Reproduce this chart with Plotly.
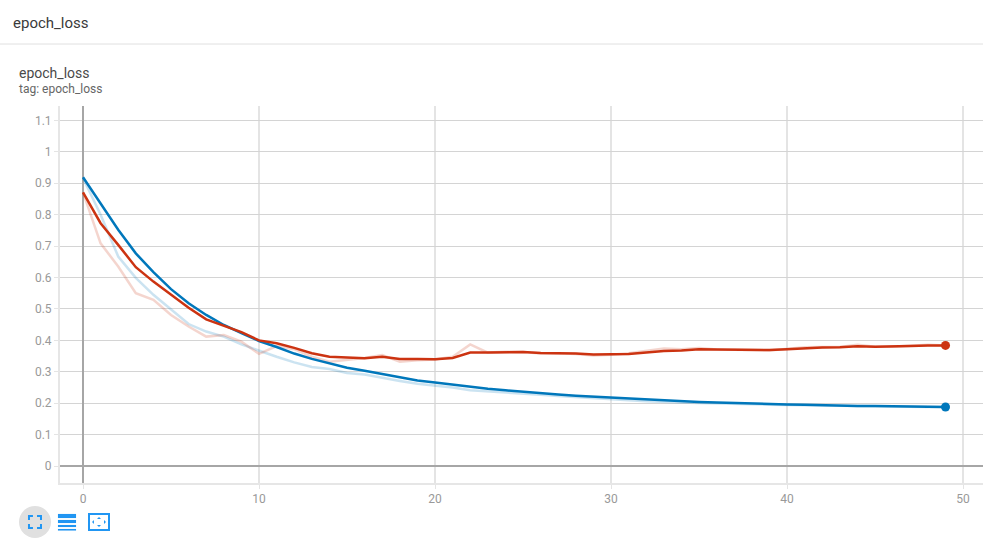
import plotly.graph_objects as go

epochs = list(range(50))

# light lines = raw values, strong lines = smoothed
train_raw = [0.917, 0.800, 0.667, 0.599, 0.545, 0.497, 0.452, 0.428, 0.412, 0.387,
             0.367, 0.348, 0.330, 0.315, 0.309, 0.296, 0.291, 0.280, 0.271, 0.262,
             0.257, 0.250, 0.241, 0.238, 0.234, 0.230, 0.227, 0.223, 0.219, 0.215,
             0.212, 0.209, 0.206, 0.203, 0.202, 0.201, 0.199, 0.198, 0.196, 0.195,
             0.194, 0.193, 0.192, 0.191, 0.190, 0.190, 0.189, 0.188, 0.188, 0.188]
train_smooth = [0.919, 0.836, 0.752, 0.677, 0.617, 0.563, 0.518, 0.481, 0.449, 0.423,
                0.398, 0.379, 0.358, 0.341, 0.327, 0.313, 0.303, 0.292, 0.281, 0.272,
                0.266, 0.259, 0.252, 0.246, 0.241, 0.236, 0.232, 0.228, 0.224, 0.221,
                0.217, 0.214, 0.211, 0.208, 0.206, 0.204, 0.202, 0.200, 0.198, 0.197,
                0.196, 0.195, 0.193, 0.192, 0.191, 0.191, 0.190, 0.189, 0.189, 0.188]
val_raw = [0.871, 0.709, 0.635, 0.550, 0.529, 0.481, 0.444, 0.412, 0.417, 0.396,
           0.357, 0.382, 0.372, 0.348, 0.332, 0.338, 0.344, 0.353, 0.332, 0.337,
           0.339, 0.348, 0.387, 0.361, 0.364, 0.363, 0.358, 0.359, 0.357, 0.352,
           0.354, 0.359, 0.367, 0.374, 0.372, 0.376, 0.371, 0.371, 0.369, 0.368,
           0.373, 0.378, 0.379, 0.379, 0.386, 0.380, 0.380, 0.384, 0.386, 0.384]
val_smooth = [0.871, 0.773, 0.704, 0.633, 0.587, 0.545, 0.504, 0.467, 0.447, 0.426,
              0.400, 0.391, 0.376, 0.359, 0.348, 0.346, 0.343, 0.348, 0.341, 0.341,
              0.340, 0.344, 0.361, 0.361, 0.363, 0.363, 0.360, 0.360, 0.358, 0.355,
              0.355, 0.357, 0.361, 0.366, 0.368, 0.372, 0.371, 0.371, 0.370, 0.369,
              0.372, 0.375, 0.377, 0.378, 0.381, 0.380, 0.380, 0.382, 0.384, 0.384]

BLUE = "#0077bb"
RED = "#cc3311"
W, H = 983, 547
L, R, T, B = 60, 0, 106, 64


def px(x):
    return (x - L) / (W - L - R)


def py(y):
    return (H - B - y) / (H - T - B)


fig = go.Figure()
fig.add_trace(go.Scatter(x=epochs, y=train_raw, mode="lines", line=dict(color=BLUE, width=2.5), opacity=0.2))
fig.add_trace(go.Scatter(x=epochs, y=val_raw, mode="lines", line=dict(color=RED, width=2.5), opacity=0.2))
fig.add_trace(go.Scatter(x=epochs, y=train_smooth, mode="lines", line=dict(color=BLUE, width=2.5)))
fig.add_trace(go.Scatter(x=epochs, y=val_smooth, mode="lines", line=dict(color=RED, width=2.5)))
fig.add_trace(go.Scatter(x=epochs[-1:], y=train_smooth[-1:], mode="markers", marker=dict(color=BLUE, size=9)))
fig.add_trace(go.Scatter(x=epochs[-1:], y=val_smooth[-1:], mode="markers", marker=dict(color=RED, size=9)))

fig.update_xaxes(range=[-1.307, 51.13], tickvals=[0, 10, 20, 30, 40, 50], showgrid=True,
                 gridcolor="#e4e4e4", gridwidth=2, zeroline=True, zerolinecolor="#a6a6a6",
                 zerolinewidth=2, ticks="outside", ticklen=4, tickcolor="#e4e4e4",
                 showline=True, linecolor="#e6e6e6", linewidth=2,
                 tickfont=dict(color="#999999", size=12))
fig.update_yaxes(range=[-0.054, 1.146], tickvals=[0, 0.1, 0.2, 0.3, 0.4, 0.5, 0.6, 0.7, 0.8, 0.9, 1, 1.1],
                 ticktext=["0", "0.1", "0.2", "0.3", "0.4", "0.5", "0.6", "0.7", "0.8", "0.9", "1", "1.1"],
                 showgrid=True, gridcolor="#d4d4d4", gridwidth=1, zeroline=True, zerolinecolor="#a6a6a6",
                 zerolinewidth=2, ticks="outside", ticklen=4, tickcolor="#e4e4e4",
                 showline=True, linecolor="#e6e6e6", linewidth=2,
                 tickfont=dict(color="#999999", size=12))

# page header and card titles
fig.add_annotation(text="epoch_loss", x=px(13), y=py(23), xref="paper", yref="paper", xanchor="left",
                   yanchor="middle", showarrow=False, xshift=-2, font=dict(size=15, color="#3a3a3a"))
fig.add_annotation(text="epoch_loss", x=px(19), y=py(73), xref="paper", yref="paper", xanchor="left",
                   yanchor="middle", showarrow=False, xshift=-2, font=dict(size=14, color="#4a4a4a"))
fig.add_annotation(text="tag: epoch_loss", x=px(19), y=py(89), xref="paper", yref="paper", xanchor="left",
                   yanchor="middle", showarrow=False, xshift=-2, font=dict(size=12, color="#666666"))
shapes = [dict(type="line", xref="paper", yref="paper", x0=px(0), x1=px(W), y0=py(44), y1=py(44),
               line=dict(color="#e0e0e0", width=1))]

# toolbar buttons under the chart
ICON = "#2196f3"
shapes.append(dict(type="circle", xref="paper", yref="paper", x0=px(19), x1=px(51), y0=py(506), y1=py(538),
                   fillcolor="#e0e0e0", line=dict(width=0)))
for cx, sx in [(29, 1), (41, -1)]:
    for cy, sy in [(516, 1), (528, -1)]:
        d = "M %.4f %.4f L %.4f %.4f L %.4f %.4f" % (px(cx), py(cy + 4 * sy), px(cx), py(cy), px(cx + 4 * sx), py(cy))
        shapes.append(dict(type="path", xref="paper", yref="paper", path=d, line=dict(color=ICON, width=2)))
for y0, y1 in [(514, 518), (520, 523), (525, 527), (529, 530.5)]:
    shapes.append(dict(type="rect", xref="paper", yref="paper", x0=px(58), x1=px(76), y0=py(y0), y1=py(y1),
                       fillcolor=ICON, line=dict(color=ICON, width=0.1)))
shapes.append(dict(type="rect", xref="paper", yref="paper", x0=px(89), x1=px(109), y0=py(514), y1=py(530),
                   line=dict(color=ICON, width=2)))
for d in [(99, 517, 97, 519, 101, 519), (99, 527, 97, 525, 101, 525), (92, 522, 94, 520, 94, 524), (106, 522, 104, 520, 104, 524)]:
    path = "M %.4f %.4f L %.4f %.4f L %.4f %.4f Z" % (px(d[0]), py(d[1]), px(d[2]), py(d[3]), px(d[4]), py(d[5]))
    shapes.append(dict(type="path", xref="paper", yref="paper", path=path, fillcolor=ICON, line=dict(width=0)))

fig.update_layout(width=W, height=H, margin=dict(l=L, r=R, t=T, b=B), showlegend=False,
                  plot_bgcolor="white", paper_bgcolor="white", shapes=shapes,
                  font=dict(family="Roboto"))
# page body has an 8px default margin which would shift the whole figure
fig.write_html("out.html", config=dict(displayModeBar=False), post_script="document.body.style.margin='0';")
